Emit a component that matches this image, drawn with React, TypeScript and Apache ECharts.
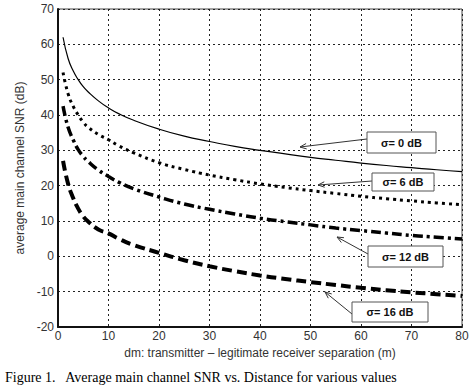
import React, { useEffect, useRef } from "react";
import * as echarts from "echarts";

const distances = [1, 2, 3, 4, 5, 6, 8, 10, 12, 15, 20, 25, 30, 35, 40, 45, 50, 55, 60, 65, 70, 75, 80];
const snrSigma0 = [62, 56, 52.5, 50, 48, 46.5, 44, 42, 40.4, 38.5, 36, 34, 32.5, 31.1, 30, 29, 28, 27.2, 26.4, 25.7, 25.1, 24.5, 24];
const snrSigma6 = [52, 46, 42.5, 40, 38, 36.5, 34.5, 33, 31.3, 29.3, 26.5, 24.6, 23, 21.7, 20.5, 19.5, 18.6, 17.8, 17, 16.3, 15.7, 15.1, 14.6];
const snrSigma12 = [42.5, 36.5, 33, 30.2, 28.3, 26.8, 24.4, 22.6, 21, 19.1, 16.8, 14.8, 13.3, 12, 10.8, 9.8, 8.9, 8, 7.3, 6.6, 5.9, 5.4, 4.9];
const snrSigma16 = [27, 20.5, 16.5, 13.5, 11.3, 9.8, 7.6, 6.5, 5, 3.2, 1, -1.1, -2.8, -4.2, -5.4, -6.4, -7.3, -8.1, -8.9, -9.6, -10.2, -10.7, -11.2];
const seriesNames = ["σ= 0 dB", "σ= 6 dB", "σ= 12 dB", "σ= 16 dB"];
const xTitle = "dm: transmitter – legitimate receiver separation (m)";
const yTitle = "average main channel SNR (dB)";
const caption = "Figure 1.   Average main channel SNR vs. Distance for various values";

const pairs = (ys: number[]) => distances.map((d, i) => [d, ys[i]]);

function arrow(x1: number, y1: number, x2: number, y2: number) {
  const a = Math.atan2(y1 - y2, x1 - x2);
  const L = 7;
  const s = 0.4;
  return [
    { type: "line", z: 100, shape: { x1, y1, x2, y2 }, style: { stroke: "#333", lineWidth: 1 } },
    {
      type: "polyline",
      z: 100,
      shape: {
        points: [
          [x2 + L * Math.cos(a + s), y2 + L * Math.sin(a + s)],
          [x2, y2],
          [x2 + L * Math.cos(a - s), y2 + L * Math.sin(a - s)],
        ],
      },
      style: { stroke: "#333", lineWidth: 1, fill: "none" },
    },
  ];
}

function box(x: number, y: number, w: number, h: number, text: string) {
  return [
    { type: "rect", z: 101, shape: { x, y, width: w, height: h }, style: { fill: "#fff", stroke: "#555", lineWidth: 1 } },
    {
      type: "text",
      z: 102,
      x: x + w / 2,
      y: y + h / 2,
      style: { text, fill: "#111", font: "bold 11px 'Liberation Sans', Arial, sans-serif", align: "center", verticalAlign: "middle" },
    },
  ];
}

export default function App() {
  const ref = useRef<HTMLDivElement>(null);
  useEffect(() => {
    if (!ref.current) return;
    const chart = echarts.init(ref.current, null, { renderer: "svg" });
    const font = "'Liberation Sans', Arial, sans-serif";
    const gridLine = { show: true, lineStyle: { color: "#222", type: [2, 3], width: 1 } };
    chart.setOption({
      animation: false,
      backgroundColor: "#fff",
      grid: { left: 58, right: 12, top: 9, bottom: 58, show: true, borderColor: "#444", borderWidth: 1 },
      xAxis: {
        type: "value",
        min: 0,
        max: 80,
        interval: 10,
        name: xTitle,
        nameLocation: "middle",
        nameGap: 20,
        nameTextStyle: { fontFamily: font, fontSize: 12, color: "#333" },
        axisLine: { show: true, onZero: false, lineStyle: { color: "#111", width: 2 } },
        axisTick: { show: false },
        axisLabel: { fontFamily: font, fontSize: 12, color: "#333", margin: 3 },
        splitLine: gridLine,
      },
      yAxis: {
        type: "value",
        min: -20,
        max: 70,
        interval: 10,
        name: yTitle,
        nameLocation: "middle",
        nameGap: 27,
        nameTextStyle: { fontFamily: font, fontSize: 12, color: "#333" },
        axisLine: { show: true, onZero: false, lineStyle: { color: "#111", width: 2 } },
        axisTick: { show: false },
        axisLabel: { fontFamily: font, fontSize: 12, color: "#333", margin: 4 },
        splitLine: gridLine,
      },
      series: [
        { name: seriesNames[0], type: "line", data: pairs(snrSigma0), smooth: true, showSymbol: false, lineStyle: { color: "#000", width: 1.2 } },
        { name: seriesNames[1], type: "line", data: pairs(snrSigma6), smooth: true, showSymbol: false, lineStyle: { color: "#000", width: 3, type: [3, 4] } },
        { name: seriesNames[2], type: "line", data: pairs(snrSigma12), smooth: true, showSymbol: false, lineStyle: { color: "#000", width: 3.5, type: [10, 4, 3, 4] } },
        { name: seriesNames[3], type: "line", data: pairs(snrSigma16), smooth: true, showSymbol: false, lineStyle: { color: "#000", width: 4, type: [10, 5] } },
      ],
      graphic: [
        ...arrow(367, 139, 300, 147),
        ...box(367, 132, 69, 21, seriesNames[0]),
        ...arrow(372, 181, 318, 185),
        ...box(372, 173, 62, 18, seriesNames[1]),
        ...arrow(368, 254, 337, 237),
        ...box(368, 246, 75, 21, seriesNames[2]),
        ...arrow(352, 314, 325, 292),
        ...box(352, 302, 76, 20, seriesNames[3]),
        {
          type: "text",
          x: 5,
          y: 370,
          style: { text: caption, fill: "#000", font: "14px 'Liberation Serif', 'Times New Roman', serif", align: "left", verticalAlign: "top" },
        },
      ],
    });
    return () => chart.dispose();
  }, []);
  return <div ref={ref} style={{ width: 474, height: 385, position: "absolute", left: 0, top: 0 }} />;
}
